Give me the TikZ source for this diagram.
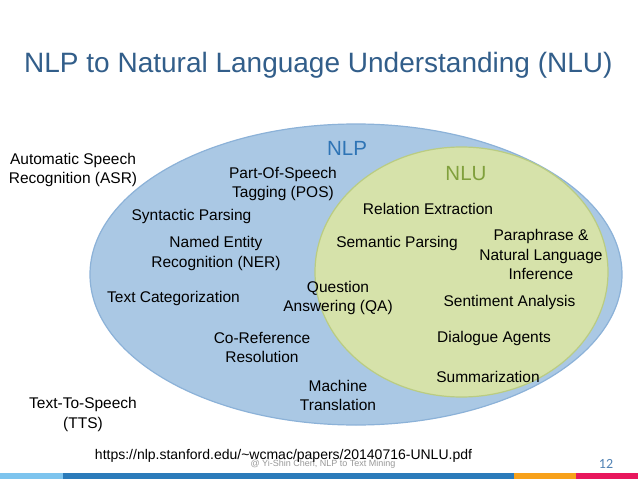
\documentclass[tikz,border=0pt]{standalone}
\usepackage{fontspec}
\setmainfont{Liberation Sans}
\newfontfamily\calibrifont{Carlito}
\definecolor{nlpfill}{RGB}{170,200,228}
\definecolor{nlpedge}{RGB}{140,178,216}
\definecolor{nlufill}{RGB}{214,226,170}
\definecolor{nluedge}{RGB}{186,204,130}
\definecolor{titleblue}{RGB}{50,94,138}
\definecolor{nlpblue}{RGB}{46,116,181}
\definecolor{nlugreen}{RGB}{128,160,60}
\definecolor{barlight}{RGB}{125,196,238}
\definecolor{barblue}{RGB}{43,123,186}
\definecolor{barorange}{RGB}{247,161,26}
\definecolor{barpink}{RGB}{232,23,93}
\definecolor{pagenum}{RGB}{80,130,180}
\begin{document}
\begin{tikzpicture}[x=1pt,y=-1pt,
  lbl/.style={inner sep=0pt,align=center,font=\fontsize{15.5}{19.5}\selectfont,text=black},
  setname/.style={inner sep=0pt,font=\fontsize{20.5}{24}\selectfont}]
\useasboundingbox (0,0) rectangle (638,479);
\fill[white] (0,0) rectangle (638,479);
% title
\node[inner sep=0pt,anchor=base west,text=titleblue,font=\fontsize{28}{32}\selectfont] (title) at (24,72) {NLP to Natural Language Understanding (NLU)};
% sets
\draw[nlpedge,fill=nlpfill,line width=1.2pt] (356,274.5) ellipse [x radius=266,y radius=150.5];
\draw[nluedge,fill=nlufill,line width=1.2pt] (461.5,272) ellipse [x radius=146.5,y radius=125];
\node[setname,text=nlpblue] (nlp) at (347,148) {NLP};
\node[setname,text=nlugreen] (nlu) at (466,174) {NLU};
% labels
\node[lbl] (asr) at (73,170) {Automatic Speech\\Recognition (ASR)};
\node[lbl] (pos) at (283,184) {Part-Of-Speech\\Tagging (POS)};
\node[lbl] (syn) at (191.5,216) {Syntactic Parsing};
\node[lbl] (ner) at (216,253.5) {Named Entity\\Recognition (NER)};
\node[lbl] (tc) at (173.5,298) {Text Categorization};
\node[lbl] (qa) at (338,298) {Question\\Answering (QA)};
\node[lbl] (cor) at (262,347.5) {Co-Reference\\Resolution};
\node[lbl] (mt) at (338,395.5) {Machine\\Translation};
\node[lbl] (tts) at (83,414.5) {Text-To-Speech\\(TTS)};
\node[lbl] (rel) at (428,209) {Relation Extraction};
\node[lbl] (sem) at (397,243) {Semantic Parsing};
\node[lbl] (para) at (541,254.5) {Paraphrase \&\\Natural Language\\Inference};
\node[lbl] (sent) at (509.5,302) {Sentiment Analysis};
\node[lbl] (dia) at (494,338) {Dialogue Agents};
\node[lbl] (sum) at (488,377) {Summarization};
% footer
\node[inner sep=0pt,text=gray!80,font=\fontsize{9}{10}\selectfont] (foot) at (323,464) {@ Yi-Shin Chen, NLP to Text Mining};
\node[inner sep=0pt,font=\fontsize{14}{16}\selectfont] (url) at (283.5,456) {https://nlp.stanford.edu/\textasciitilde wcmac/papers/20140716-UNLU.pdf};
\node[inner sep=0pt,text=pagenum,font=\calibrifont\fontsize{14}{16}\selectfont] (pg) at (606,464) {12};
% bottom bar
\fill[barlight] (0,473) rectangle (63,479);
\fill[barblue] (63,473) rectangle (514,479);
\fill[barorange] (514,473) rectangle (576,479);
\fill[barpink] (576,473) rectangle (638,479);
\end{tikzpicture}
\end{document}
